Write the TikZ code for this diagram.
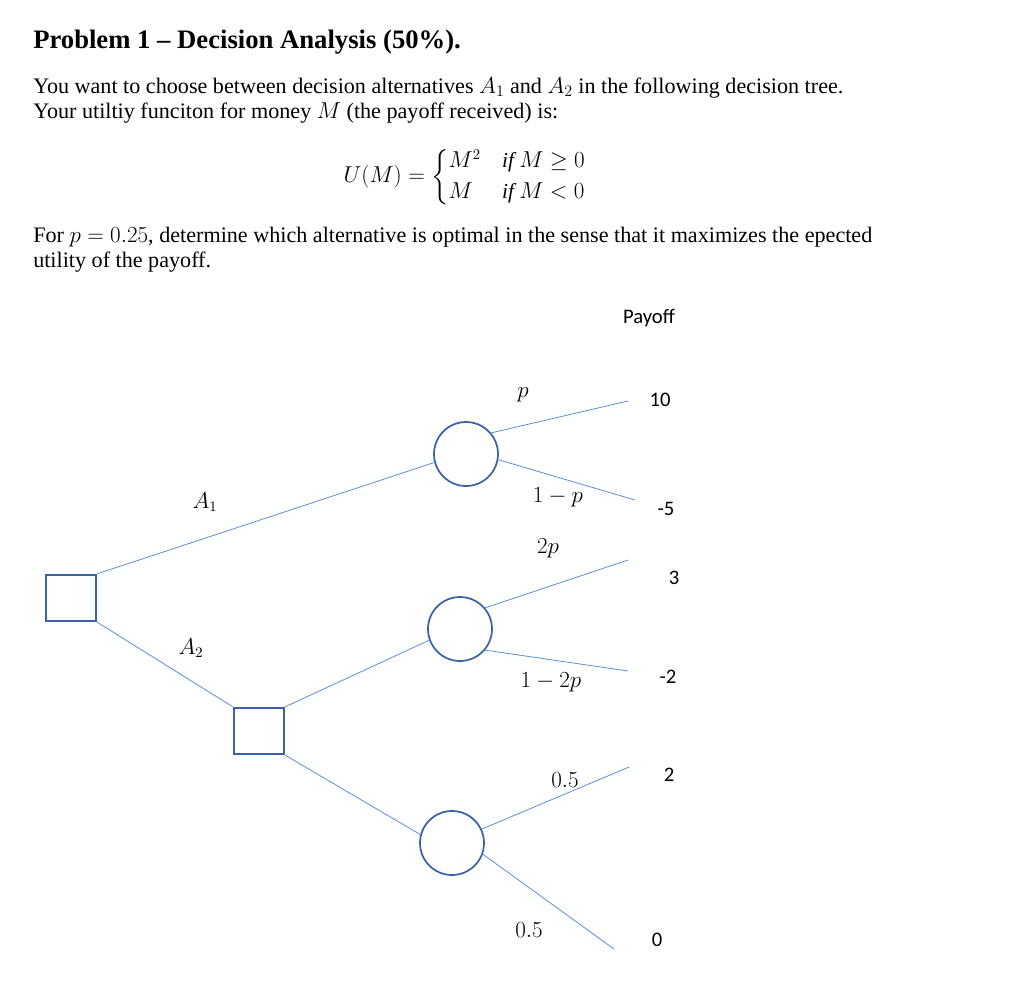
\documentclass[tikz,border=0pt]{standalone}
\usepackage{amsmath}
\usepackage{fontspec}
\setmainfont{Liberation Serif}
\newfontfamily\carlitofont{Carlito}
\definecolor{lnc}{HTML}{5B8FD6}
\definecolor{shc}{HTML}{3A62A8}
\begin{document}
\begin{tikzpicture}[x=0.75pt,y=-0.75pt,
  br/.style={draw=lnc, line width=0.6pt},
  dec/.style={draw=shc, line width=1.3pt, minimum width=38pt, minimum height=35pt, inner sep=0},
  chance/.style={circle, draw=shc, line width=1.3pt, minimum size=48pt, inner sep=0},
  txt/.style={font=\fontsize{16.6}{20}\selectfont, anchor=base west, inner sep=0},
  pay/.style={font=\carlitofont\fontsize{15.5}{18}\selectfont, inner sep=0},
  lab/.style={font=\fontsize{16}{19}\selectfont, inner sep=0}]
\useasboundingbox (0,0) rectangle (1024,985);
\fill[white] (0,0) rectangle (1024,985);
\node[txt, font=\bfseries\fontsize{20}{24}\selectfont] (t) at (33,48) {Problem 1 -- Decision Analysis (50\%).};
\node[txt] (l1) at (33,93) {You want to choose between decision alternatives $A_1$ and $A_2$ in the following decision tree.};
\node[txt] (l2) at (33,118) {Your utiltiy funciton for money $M$ (the payoff received) is:};
\node[lab] (f) at (465,177) {$U(M)=\begin{cases}M^2 & \mathit{if}\ M\geq 0\\ M & \mathit{if}\ M<0\end{cases}$};
\node[txt] (l3) at (33,242) {For $p=0.25$, determine which alternative is optimal in the sense that it maximizes the epected};
\node[txt] (l4) at (33,267) {utility of the payoff.};
\node[pay] (pay) at (649,318) {Payoff};
\node[dec] (s1) at (71,598) {};
\node[dec] (s2) at (259,731) {};
\node[chance] (c1) at (466,454) {};
\node[chance] (c2) at (460,629) {};
\node[chance] (c3) at (452,843) {};
\coordinate (e1) at (628,401); \coordinate (e2) at (635,500);
\coordinate (e3) at (628,560); \coordinate (e4) at (628,671);
\coordinate (e5) at (629,767); \coordinate (e6) at (614,949);
\draw[br] (s1.north east) -- (c1.195);
\draw[br] (s1.south east) -- (s2.north west);
\draw[br] (s2.north east) -- (c2.200);
\draw[br] (s2.south east) -- (c3.165);
\draw[br] (c1.40) -- (e1); \draw[br] (c1.-10) -- (e2);
\draw[br] (c2.40) -- (e3); \draw[br] (c2.-40) -- (e4);
\draw[br] (c3.25) -- (e5); \draw[br] (c3.-20) -- (e6);
\node[lab] at (523,395) {$p$};
\node[lab] at (558,497) {$1-p$};
\node[lab] at (205,502) {$A_1$};
\node[lab] at (548,548) {$2p$};
\node[lab] at (191,648) {$A_2$};
\node[lab] at (551,682) {$1-2p$};
\node[lab] at (565,780) {$0.5$};
\node[lab] at (529,930) {$0.5$};
\node[pay] at (660,400) {10};
\node[pay] at (666,509) {-5};
\node[pay] at (674,578) {3};
\node[pay] at (668,677) {-2};
\node[pay] at (669,775) {2};
\node[pay] at (657,940) {0};
\end{tikzpicture}
\end{document}
